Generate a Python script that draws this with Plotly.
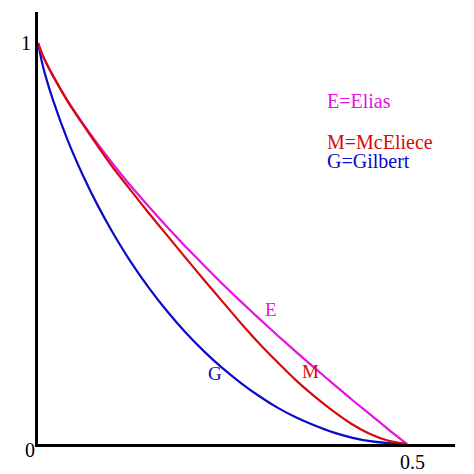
import plotly.graph_objects as go

# --- DATA ---
delta = [0, 0.005, 0.01, 0.02, 0.04, 0.06, 0.08, 0.10, 0.125, 0.15, 0.175, 0.2,
         0.225, 0.25, 0.275, 0.3, 0.325, 0.35, 0.375, 0.4, 0.425, 0.45, 0.475, 0.5]

gilbert = [1.0, 0.955, 0.919, 0.859, 0.758, 0.673, 0.598, 0.531, 0.456, 0.390, 0.331, 0.278,
           0.231, 0.189, 0.152, 0.119, 0.090, 0.066, 0.046, 0.029, 0.016, 0.007, 0.002, 0.0]

elias = [1.0, 0.975, 0.954, 0.919, 0.856, 0.801, 0.750, 0.702, 0.645, 0.592, 0.541, 0.492,
         0.445, 0.399, 0.355, 0.312, 0.270, 0.229, 0.189, 0.150, 0.111, 0.074, 0.036, 0.0]

mceliece = [1.0, 0.975, 0.954, 0.919, 0.855, 0.799, 0.745, 0.693, 0.634, 0.576, 0.520, 0.464,
            0.409, 0.355, 0.301, 0.250, 0.203, 0.158, 0.118, 0.082, 0.050, 0.025, 0.008, 0.0]

x_ticks = [0, 0.5]
x_tick_labels = ["0", "0.5"]
y_tick_labels = ["0", "1"]

legend_lines = ["E=Elias", "M=McEliece", "G=Gilbert"]
legend_y = [0.855, 0.752, 0.706]

BLUE = "rgb(10,10,200)"
RED = "rgb(215,10,10)"
MAGENTA = "rgb(225,20,225)"
FONT = "Liberation Serif, Times New Roman, serif"

fig = go.Figure()
fig.add_trace(go.Scatter(x=delta, y=gilbert, mode="lines", line=dict(color=BLUE, width=2.2, shape="spline", smoothing=0.6)))
fig.add_trace(go.Scatter(x=delta, y=elias, mode="lines", line=dict(color=MAGENTA, width=2.2, shape="spline", smoothing=0.6)))
fig.add_trace(go.Scatter(x=delta, y=mceliece, mode="lines", line=dict(color=RED, width=2.2, shape="spline", smoothing=0.6)))

# legend text (upper right)
for txt, yy, col in zip(legend_lines, legend_y, [MAGENTA, RED, BLUE]):
    fig.add_annotation(x=0.389, y=yy, text=txt, showarrow=False, xanchor="left", yanchor="middle",
                       font=dict(family=FONT, size=20, color=col))

# curve letters
fig.add_annotation(x=0.316, y=0.335, text="E", showarrow=False, font=dict(family=FONT, size=19, color=MAGENTA))
fig.add_annotation(x=0.369, y=0.180, text="M", showarrow=False, font=dict(family=FONT, size=19, color=RED))
fig.add_annotation(x=0.240, y=0.175, text="G", showarrow=False, font=dict(family=FONT, size=19, color=BLUE))

# axis labels
fig.add_annotation(x=0, y=1, text=y_tick_labels[1], showarrow=False, xanchor="right", yanchor="middle",
                   xshift=-5, font=dict(family=FONT, size=20, color="black"))
fig.add_annotation(x=0, y=0, text=x_tick_labels[0], showarrow=False, xanchor="right", yanchor="middle",
                   xshift=-1, yshift=-6, font=dict(family=FONT, size=20, color="black"))
fig.add_annotation(x=x_ticks[1], y=0, text=x_tick_labels[1], showarrow=False, xanchor="center", yanchor="top",
                   xshift=5, yshift=-5, font=dict(family=FONT, size=20, color="black"))

fig.update_xaxes(range=[0, 0.565], showline=True, linecolor="black", linewidth=2.5,
                 showgrid=False, zeroline=False, showticklabels=False, ticks="")
fig.update_yaxes(range=[0, 1.077], showline=True, linecolor="black", linewidth=2.5,
                 showgrid=False, zeroline=False, showticklabels=False, ticks="")
fig.update_traces(cliponaxis=False)
# page body adds an 8px margin, so the figure is a bit smaller than the window
fig.update_layout(width=466, height=466, margin=dict(l=30, r=19, t=4, b=30, autoexpand=False),
                  plot_bgcolor="white", paper_bgcolor="white", showlegend=False)

fig.write_html("out.html")
